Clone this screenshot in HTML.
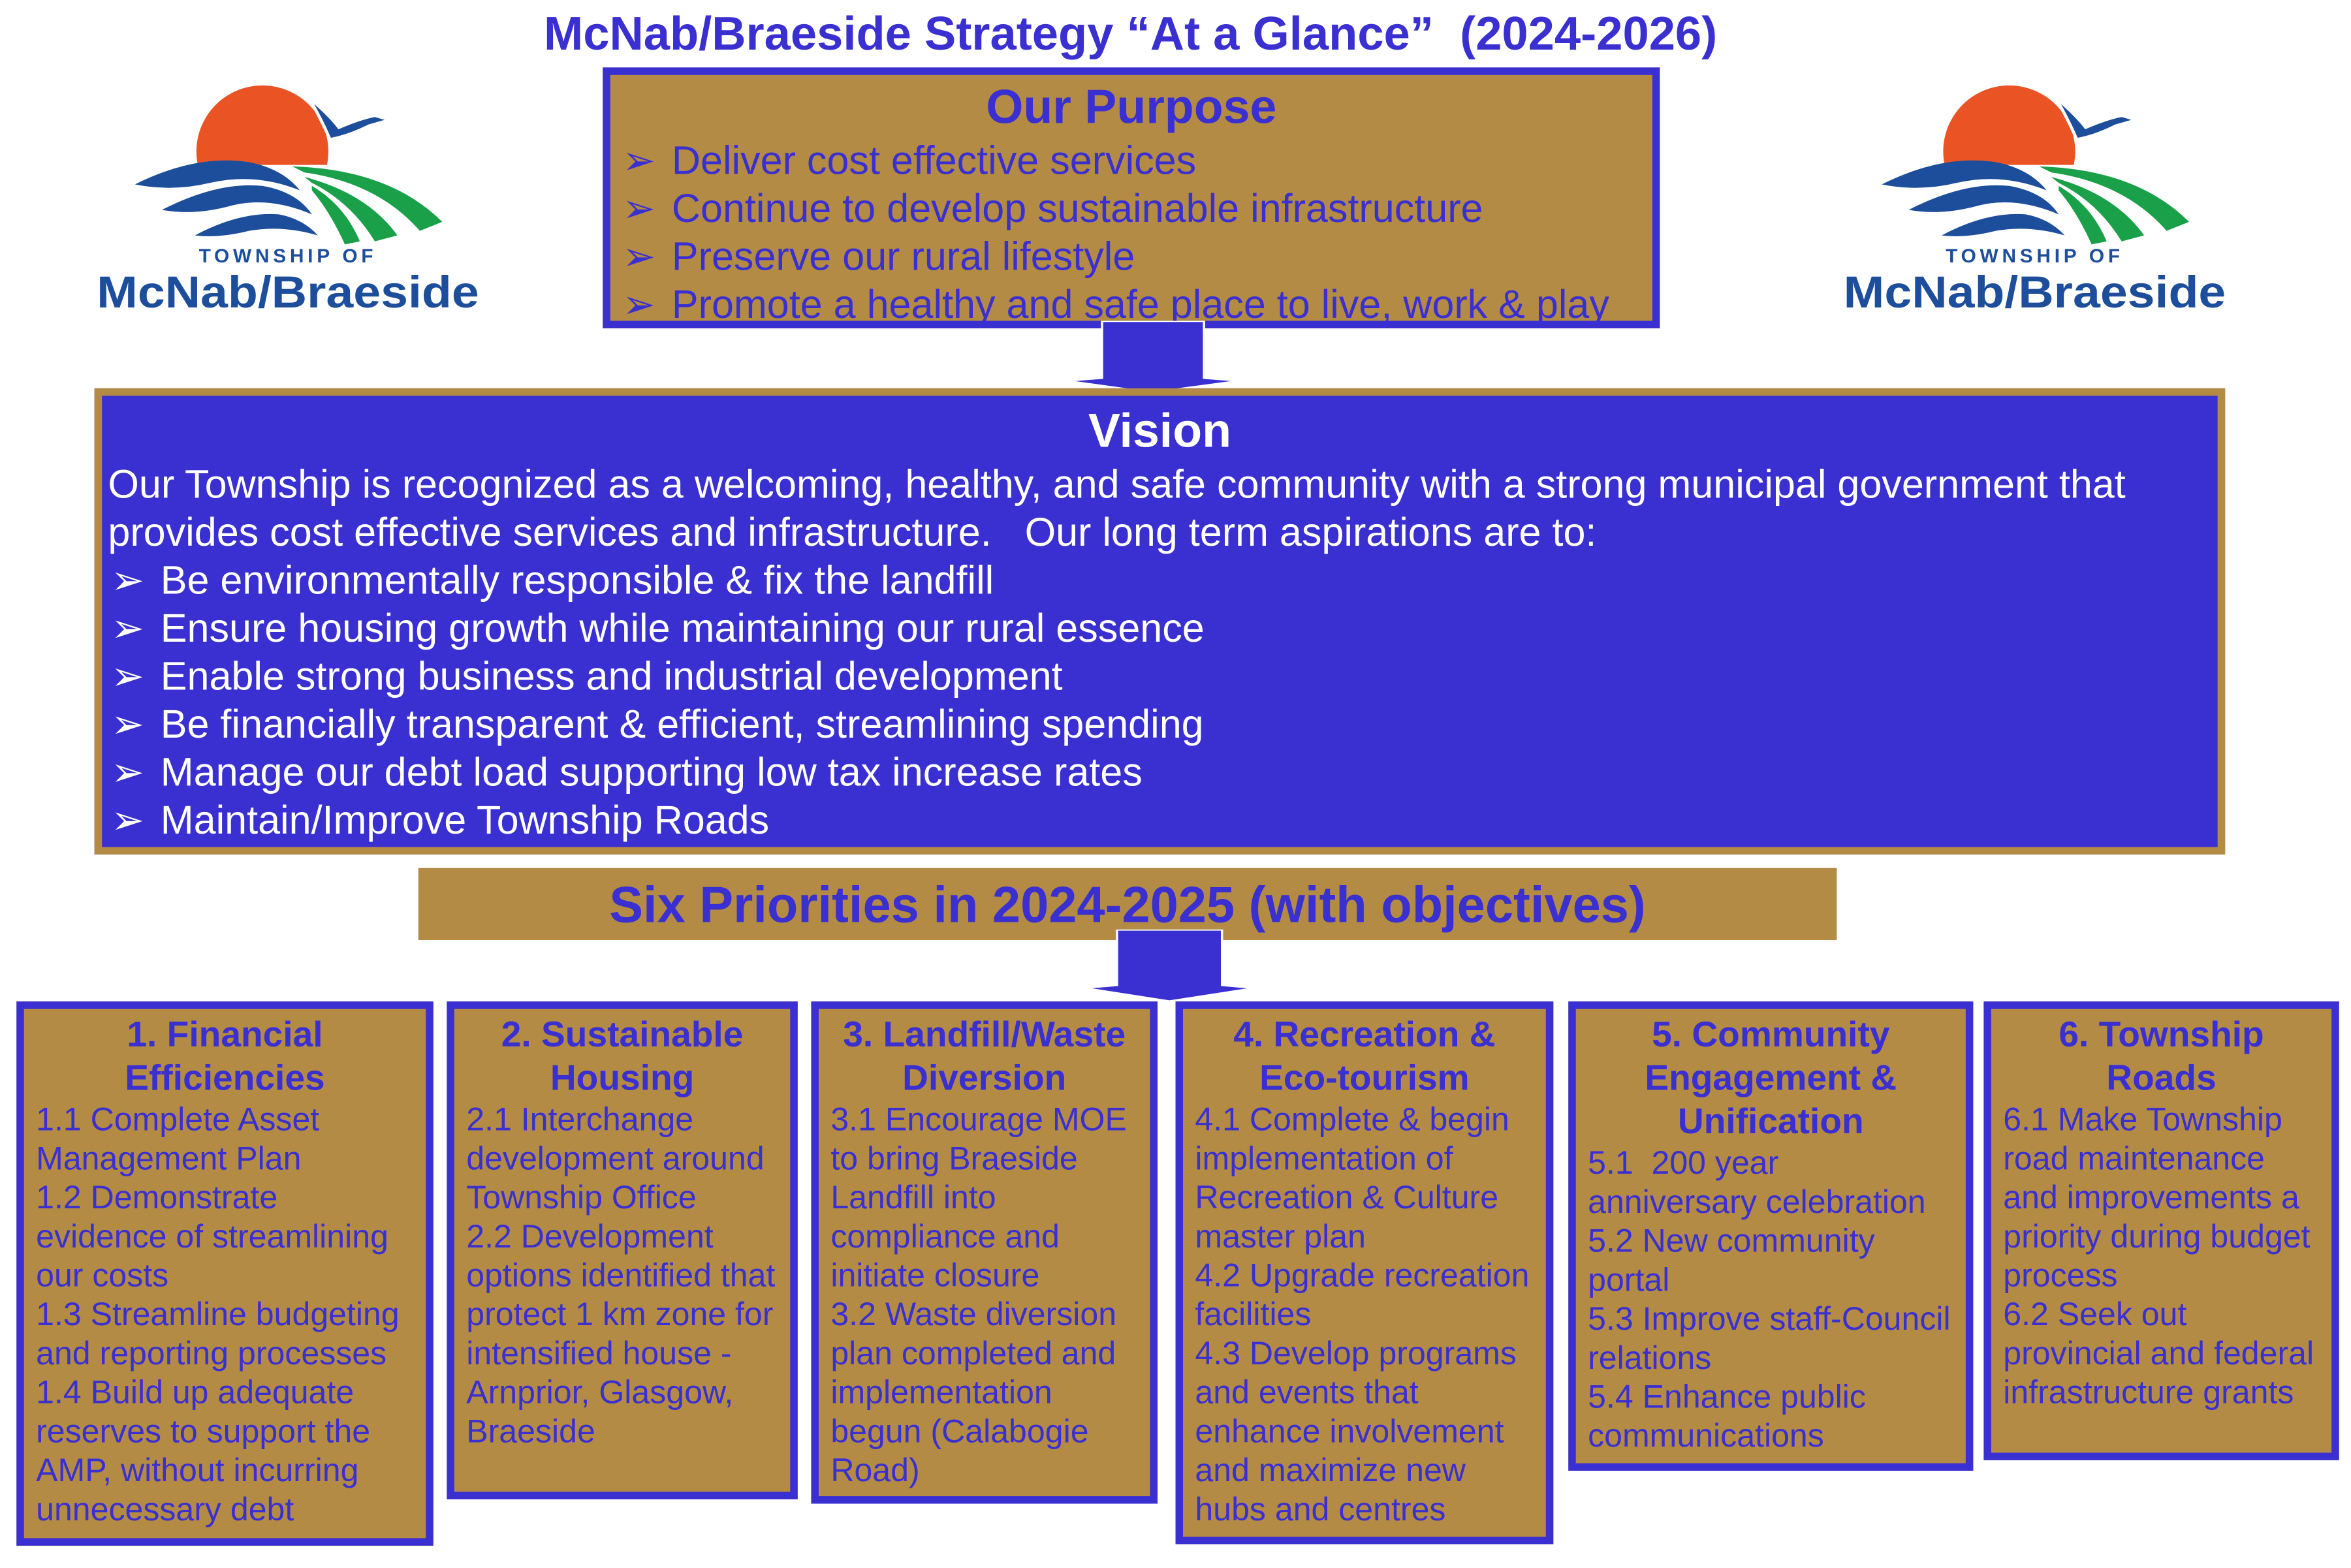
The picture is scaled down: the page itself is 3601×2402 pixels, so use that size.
<!DOCTYPE html>
<html><head><meta charset="utf-8">
<style>
html,body{margin:0;padding:0;background:#fff;}
body{width:3601px;height:2401px;overflow:hidden;position:relative;}
#s{position:absolute;left:0;top:0;width:1568px;height:1046px;transform:scale(2.2966);transform-origin:0 0;font-family:"Liberation Sans",Arial,sans-serif;color:#3a2fd0;}
.a{position:absolute;}
.title{left:0;width:1508px;text-align:center;top:4px;font-size:31.5px;font-weight:bold;white-space:pre;}
.purpose{left:402px;top:45px;width:695px;height:164px;background:#b38b45;border:5px solid #3a2fd0;overflow:hidden;}
.purpose h1{margin:0;font-size:32px;text-align:center;line-height:40px;margin-top:1px;}
.pl{font-size:26.6px;line-height:32px;padding-left:6px;white-space:nowrap;}
.vision{left:63px;top:259px;width:1411px;height:301px;background:#3a2fd0;border:5px solid #b38b45;color:#fff;}
.vision h1{margin:0;font-size:32px;text-align:center;line-height:40px;margin-top:3px;}
.vl{font-size:26.6px;line-height:32px;padding-left:4px;white-space:nowrap;}
.bul{display:inline-block;width:33px;padding-left:2px;}
.six{left:279px;top:579px;width:946px;height:48px;background:#b38b45;text-align:center;font-size:33.8px;font-weight:bold;line-height:50px;}
.box{top:668px;background:#b38b45;border:5px solid #3a2fd0;box-sizing:border-box;}
.box h2{margin:0;font-size:24px;text-align:center;line-height:29px;margin-top:3px;}
.box p{margin:0;font-size:21.8px;line-height:26px;padding-left:8px;white-space:nowrap;}
</style></head><body><div id="s">
<div class="a title">McNab/Braeside Strategy “At a Glance”  (2024-2026)</div>

<svg class="a" style="left:60px;top:55px" width="265" height="160" viewBox="0 0 265 160">
 <defs><clipPath id="c1"><rect x="0" y="0" width="265" height="55"/></clipPath></defs>
 <circle cx="115" cy="46" r="44" fill="#ea5424" clip-path="url(#c1)"/>
 <path d="M146 10 Q160 22 166 30 Q180 24 190 22 L200 25 L186 29 Q172 36 160 38 Q156 28 146 10Z" fill="#1c4e9b" stroke="#fff" stroke-width="2"/>
 <path d="M30 68 Q70 48 105 53 Q128 57 140 72 Q110 60 80 67 Q55 73 30 68Z" fill="#1c4e9b"/>
 <path d="M48 85 Q85 66 115 69 Q138 73 148 88 Q120 76 95 82 Q70 89 48 85Z" fill="#1c4e9b"/>
 <path d="M70 102 Q100 86 126 88 Q142 91 152 102 Q128 95 106 99 Q86 104 70 102Z" fill="#1c4e9b"/>
 <path d="M135 56 Q200 58 235 93 L220 99 Q192 67 143 60Z" fill="#1ba04a"/>
 <path d="M143 63 Q185 74 205 102 L190 106 Q174 80 148 67Z" fill="#1ba04a"/>
 <path d="M148 69 Q170 82 180 106 L170 108 Q160 86 148 72Z" fill="#1ba04a"/>
 <text x="132" y="120" text-anchor="middle" font-family="Liberation Sans, sans-serif" font-weight="bold" font-size="13" letter-spacing="2.5" fill="#1c4e9b">TOWNSHIP OF</text>
 <text x="132" y="150" text-anchor="middle" font-family="Liberation Sans, sans-serif" font-weight="bold" font-size="30" fill="#1c4e9b" textLength="255" lengthAdjust="spacingAndGlyphs">McNab/Braeside</text>
</svg>
<svg class="a" style="left:1225px;top:55px" width="265" height="160" viewBox="0 0 265 160">
 <defs><clipPath id="c2"><rect x="0" y="0" width="265" height="55"/></clipPath></defs>
 <circle cx="115" cy="46" r="44" fill="#ea5424" clip-path="url(#c2)"/>
 <path d="M146 10 Q160 22 166 30 Q180 24 190 22 L200 25 L186 29 Q172 36 160 38 Q156 28 146 10Z" fill="#1c4e9b" stroke="#fff" stroke-width="2"/>
 <path d="M30 68 Q70 48 105 53 Q128 57 140 72 Q110 60 80 67 Q55 73 30 68Z" fill="#1c4e9b"/>
 <path d="M48 85 Q85 66 115 69 Q138 73 148 88 Q120 76 95 82 Q70 89 48 85Z" fill="#1c4e9b"/>
 <path d="M70 102 Q100 86 126 88 Q142 91 152 102 Q128 95 106 99 Q86 104 70 102Z" fill="#1c4e9b"/>
 <path d="M135 56 Q200 58 235 93 L220 99 Q192 67 143 60Z" fill="#1ba04a"/>
 <path d="M143 63 Q185 74 205 102 L190 106 Q174 80 148 67Z" fill="#1ba04a"/>
 <path d="M148 69 Q170 82 180 106 L170 108 Q160 86 148 72Z" fill="#1ba04a"/>
 <text x="132" y="120" text-anchor="middle" font-family="Liberation Sans, sans-serif" font-weight="bold" font-size="13" letter-spacing="2.5" fill="#1c4e9b">TOWNSHIP OF</text>
 <text x="132" y="150" text-anchor="middle" font-family="Liberation Sans, sans-serif" font-weight="bold" font-size="30" fill="#1c4e9b" textLength="255" lengthAdjust="spacingAndGlyphs">McNab/Braeside</text>
</svg>

<div class="a purpose">
 <h1>Our Purpose</h1>
 <div class="pl"><span class="bul">➢</span>Deliver cost effective services</div>
 <div class="pl"><span class="bul">➢</span>Continue to develop sustainable infrastructure</div>
 <div class="pl"><span class="bul">➢</span>Preserve our rural lifestyle</div>
 <div class="pl"><span class="bul">➢</span>Promote a healthy and safe place to live, work &amp; play</div>
</div>

<svg class="a" style="left:700px;top:214px" width="140" height="50"><polygon points="35,0 103,0 103,38 128,40 68,48 10,40 35,38" fill="#3a2fd0" stroke="#fff" stroke-width="1.5"/></svg>

<div class="a vision">
 <h1>Vision</h1>
 <div class="vl">Our Township is recognized as a welcoming, healthy, and safe community with a strong municipal government that</div>
 <div class="vl">provides cost effective services and infrastructure.&nbsp;&nbsp; Our long term aspirations are to:</div>
 <div class="vl"><span class="bul">➢</span>Be environmentally responsible &amp; fix the landfill</div>
 <div class="vl"><span class="bul">➢</span>Ensure housing growth while maintaining our rural essence</div>
 <div class="vl"><span class="bul">➢</span>Enable strong business and industrial development</div>
 <div class="vl"><span class="bul">➢</span>Be financially transparent &amp; efficient, streamlining spending</div>
 <div class="vl"><span class="bul">➢</span>Manage our debt load supporting low tax increase rates</div>
 <div class="vl"><span class="bul">➢</span>Maintain/Improve Township Roads</div>
</div>

<div class="a six">Six Priorities in 2024-2025 (with objectives)</div>
<svg class="a" style="left:718px;top:620px" width="126" height="52"><polygon points="27,0 97,0 97,37 120,39 62,48 4,39 27,37" fill="#3a2fd0" stroke="#fff" stroke-width="1.5"/></svg>

<div class="a box" style="left:11px;width:278px;height:363px">
 <h2>1. Financial<br>Efficiencies</h2>
 <p>1.1 Complete Asset</p><p>Management Plan</p><p>1.2 Demonstrate</p><p>evidence of streamlining</p><p>our costs</p><p>1.3 Streamline budgeting</p><p>and reporting processes</p><p>1.4 Build up adequate</p><p>reserves to support the</p><p>AMP, without incurring</p><p>unnecessary debt</p>
</div>
<div class="a box" style="left:298px;width:234px;height:332px">
 <h2>2. Sustainable<br>Housing</h2>
 <p>2.1 Interchange</p><p>development around</p><p>Township Office</p><p>2.2 Development</p><p>options identified that</p><p>protect 1 km zone for</p><p>intensified house -</p><p>Arnprior, Glasgow,</p><p>Braeside</p>
</div>
<div class="a box" style="left:541px;width:231px;height:335px">
 <h2>3. Landfill/Waste<br>Diversion</h2>
 <p>3.1 Encourage MOE</p><p>to bring Braeside</p><p>Landfill into</p><p>compliance and</p><p>initiate closure</p><p>3.2 Waste diversion</p><p>plan completed and</p><p>implementation</p><p>begun (Calabogie</p><p>Road)</p>
</div>
<div class="a box" style="left:784px;width:252px;height:362px">
 <h2>4. Recreation &amp;<br>Eco-tourism</h2>
 <p>4.1 Complete &amp; begin</p><p>implementation of</p><p>Recreation &amp; Culture</p><p>master plan</p><p>4.2 Upgrade recreation</p><p>facilities</p><p>4.3 Develop programs</p><p>and events that</p><p>enhance involvement</p><p>and maximize new</p><p>hubs and centres</p>
</div>
<div class="a box" style="left:1046px;width:270px;height:313px">
 <h2>5. Community<br>Engagement &amp;<br>Unification</h2>
 <p>5.1&nbsp; 200 year</p><p>anniversary celebration</p><p>5.2 New community</p><p>portal</p><p>5.3 Improve staff-Council</p><p>relations</p><p>5.4 Enhance public</p><p>communications</p>
</div>
<div class="a box" style="left:1323px;width:237px;height:306px">
 <h2>6. Township<br>Roads</h2>
 <p>6.1 Make Township</p><p>road maintenance</p><p>and improvements a</p><p>priority during budget</p><p>process</p><p>6.2 Seek out</p><p>provincial and federal</p><p>infrastructure grants</p>
</div>
</div></body></html>
